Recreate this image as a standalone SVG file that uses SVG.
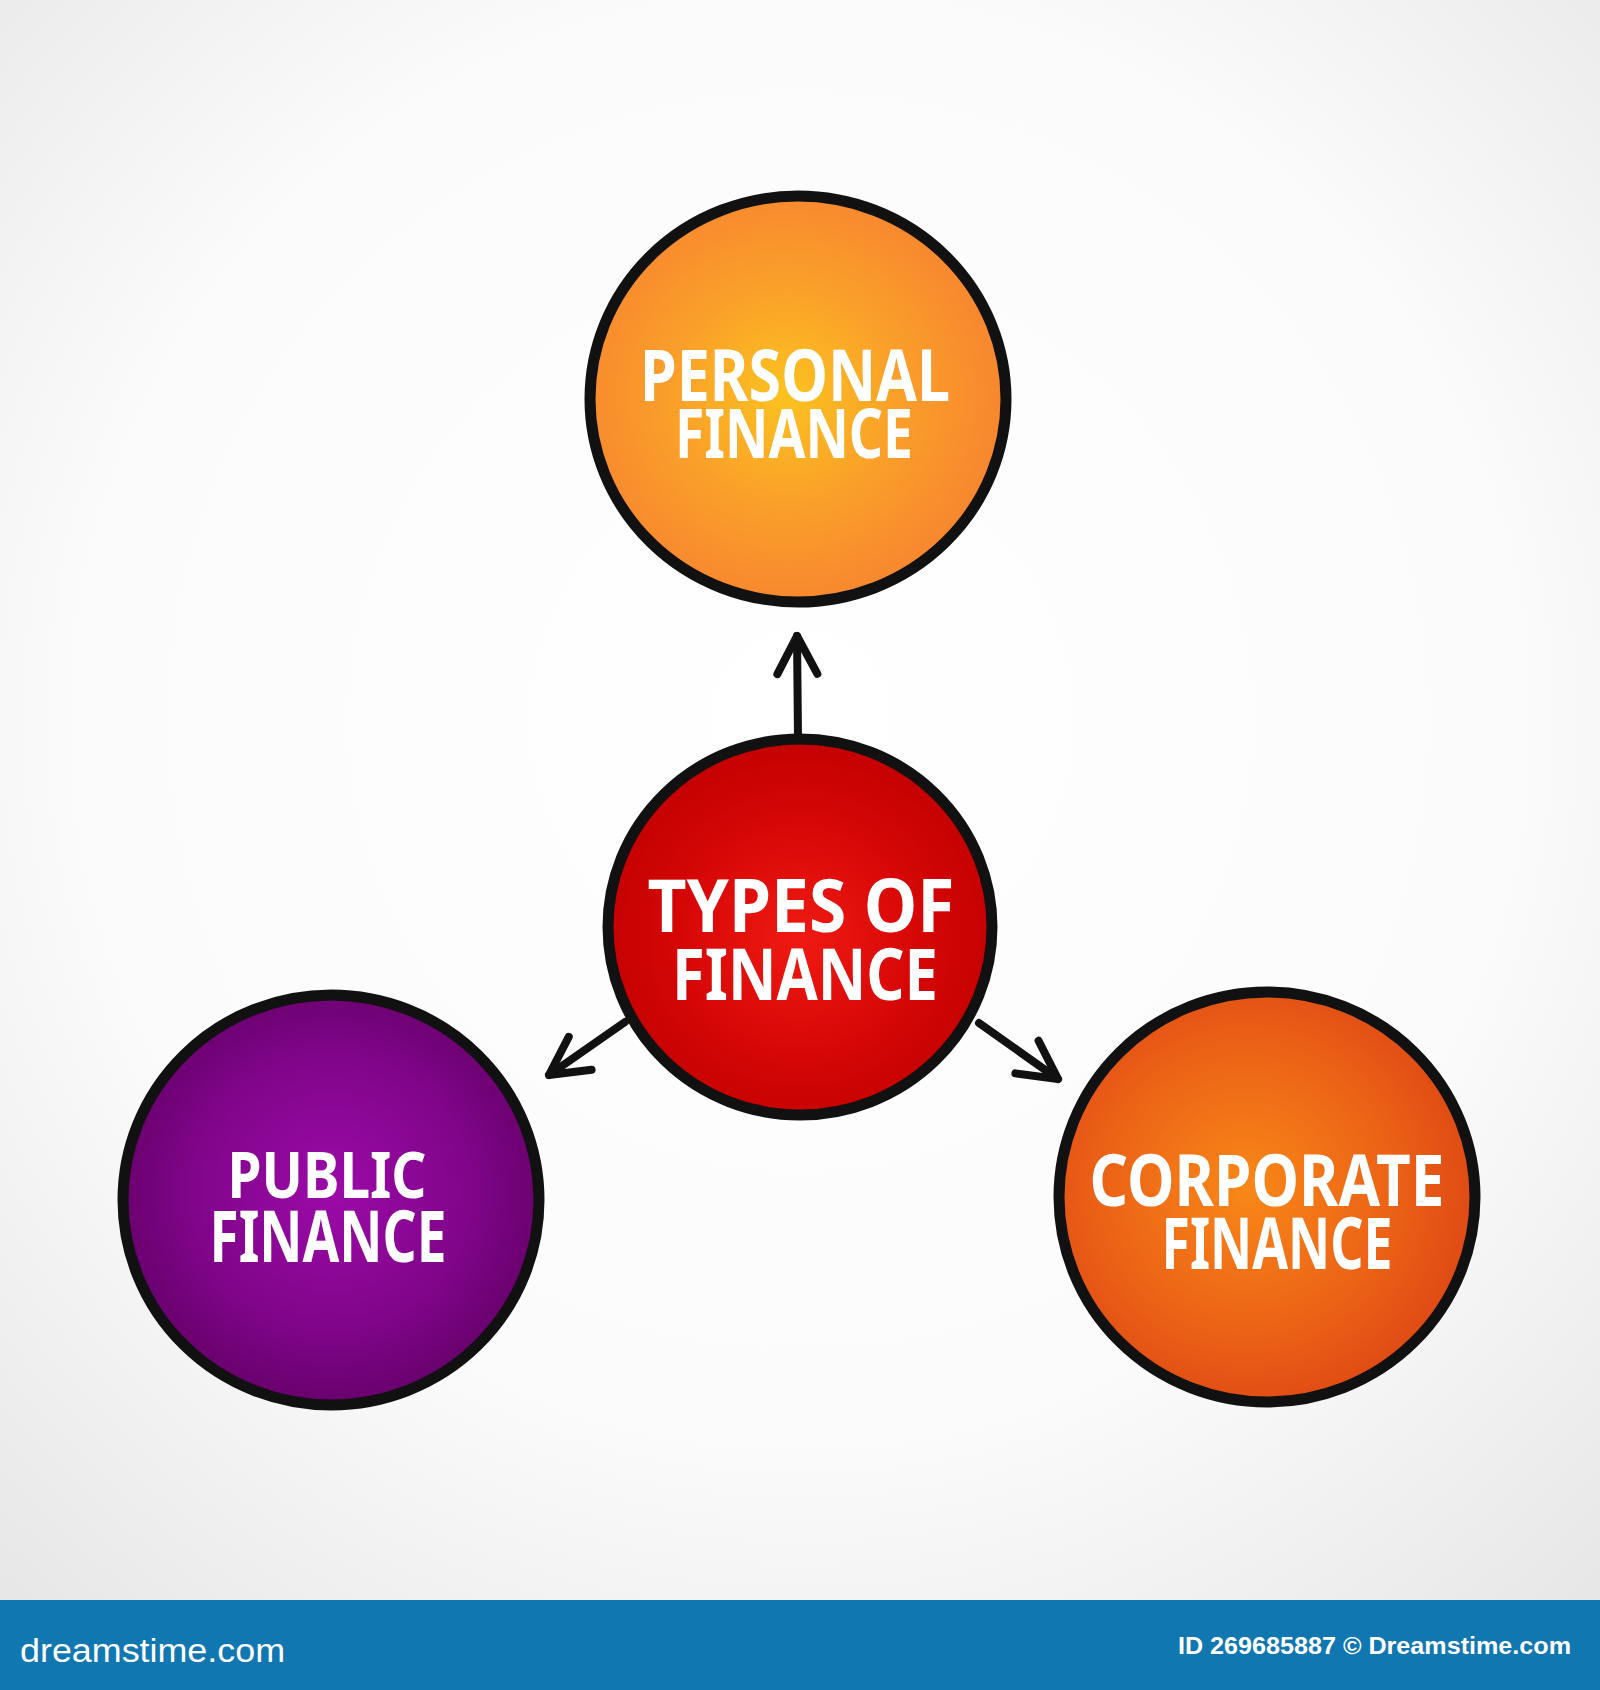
<svg xmlns="http://www.w3.org/2000/svg" width="1600" height="1690" viewBox="0 0 1600 1690">
<defs>
<radialGradient id="bg" cx="50%" cy="45%" r="75%">
<stop offset="0" stop-color="#ffffff"/>
<stop offset="0.6" stop-color="#fbfbfb"/>
<stop offset="1" stop-color="#e6e6e6"/>
</radialGradient>
<radialGradient id="gPersonal" cx="47%" cy="49%" r="55%">
<stop offset="0" stop-color="#fcc21f"/>
<stop offset="0.5" stop-color="#fa9f2a"/>
<stop offset="1" stop-color="#f7842f"/>
</radialGradient>
<radialGradient id="gTypes" cx="50%" cy="53%" r="55%">
<stop offset="0" stop-color="#f01a12"/>
<stop offset="0.6" stop-color="#d40606"/>
<stop offset="1" stop-color="#c20000"/>
</radialGradient>
<radialGradient id="gPublic" cx="50%" cy="48%" r="55%">
<stop offset="0" stop-color="#9c0aa8"/>
<stop offset="0.6" stop-color="#80058a"/>
<stop offset="1" stop-color="#650068"/>
</radialGradient>
<radialGradient id="gCorp" cx="45%" cy="48%" r="58%">
<stop offset="0" stop-color="#f88818"/>
<stop offset="0.6" stop-color="#ec6216"/>
<stop offset="1" stop-color="#dd4714"/>
</radialGradient>
<marker id="arr" markerUnits="userSpaceOnUse" viewBox="-50 -30 60 60" refX="0" refY="0" markerWidth="60" markerHeight="60" orient="auto" overflow="visible">
<path d="M-38,-20 L0,0 L-38,20" fill="none" stroke="#111" stroke-width="8" stroke-linecap="round" stroke-linejoin="round"/>
</marker>
</defs>
<style>
.node{stroke:#111;stroke-width:11}
.lbl{fill:#ffffff;font-family:"Noto Sans","DejaVu Sans",sans-serif;font-weight:bold;text-anchor:middle}
.conn{fill:none;stroke:#111;stroke-width:8;stroke-linecap:round;marker-end:url(#arr)}
.foot{fill:#ffffff;font-family:"Liberation Sans",Arial,sans-serif}
</style>
<rect x="0" y="0" width="1600" height="1600" fill="url(#bg)"/>

<g id="connectors">
<path class="conn" d="M798,737 L797,636"/>
<path class="conn" d="M625,1022 L549,1075"/>
<path class="conn" d="M979,1023 L1058,1079"/>
</g>

<g id="personal-finance">
<ellipse class="node" cx="798" cy="399" rx="208" ry="203" fill="url(#gPersonal)"/>
<text class="lbl"><tspan x="795" y="401" font-size="72" textLength="310" lengthAdjust="spacingAndGlyphs">PERSONAL</tspan><tspan x="794" y="458" font-size="68" textLength="238" lengthAdjust="spacingAndGlyphs">FINANCE</tspan></text>
</g>

<g id="types-of-finance">
<ellipse class="node" cx="800" cy="927" rx="192" ry="188" fill="url(#gTypes)"/>
<text class="lbl"><tspan x="801" y="932" font-size="74" textLength="307" lengthAdjust="spacingAndGlyphs">TYPES OF</tspan><tspan x="805" y="1000" font-size="72" textLength="266" lengthAdjust="spacingAndGlyphs">FINANCE</tspan></text>
</g>

<g id="public-finance">
<ellipse class="node" cx="331" cy="1200" rx="208" ry="205" fill="url(#gPublic)"/>
<text class="lbl"><tspan x="327" y="1198" font-size="64" textLength="199" lengthAdjust="spacingAndGlyphs">PUBLIC</tspan><tspan x="328" y="1262" font-size="72" textLength="237" lengthAdjust="spacingAndGlyphs">FINANCE</tspan></text>
</g>

<g id="corporate-finance">
<ellipse class="node" cx="1267" cy="1197" rx="208" ry="205" fill="url(#gCorp)"/>
<text class="lbl"><tspan x="1267" y="1206" font-size="72" textLength="355" lengthAdjust="spacingAndGlyphs">CORPORATE</tspan><tspan x="1277" y="1269" font-size="72" textLength="231" lengthAdjust="spacingAndGlyphs">FINANCE</tspan></text>
</g>

<g id="footer">
<rect x="0" y="1600" width="1600" height="90" fill="#1077b0"/>
<text class="foot" x="20" y="1662" font-size="34" textLength="265" lengthAdjust="spacingAndGlyphs">dreamstime.com</text>
<text class="foot" x="1571" y="1654" font-size="24" font-weight="bold" text-anchor="end" textLength="393" lengthAdjust="spacingAndGlyphs">ID 269685887 © Dreamstime.com</text>
</g>
</svg>
